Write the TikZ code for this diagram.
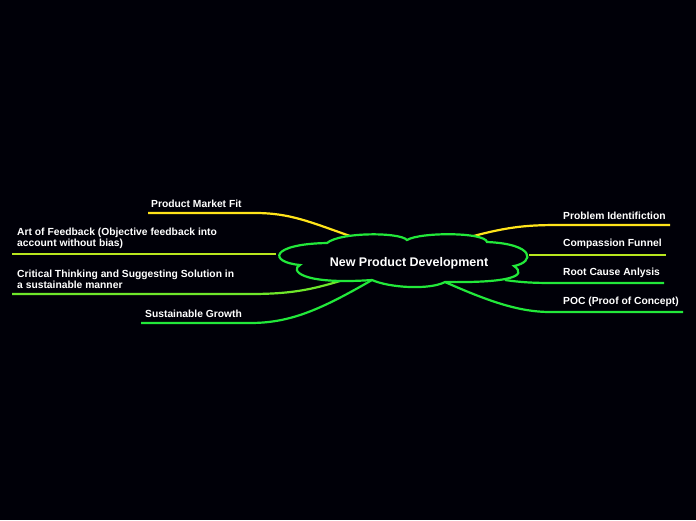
\documentclass[tikz,border=0pt]{standalone}
\usepackage{fontspec}
\setmainfont{Liberation Sans}
\definecolor{brg}{HTML}{22E83A}
\definecolor{bry}{HTML}{FFE41A}
\definecolor{bryg}{HTML}{B8E61E}
\definecolor{brgy}{HTML}{6EE62A}
\begin{document}
\begin{tikzpicture}[x=1pt,y=-1pt,
  lbl/.style={text=white,font=\bfseries\fontsize{10.3}{11}\selectfont,inner sep=0pt,align=left,anchor=south west},
  br/.style={line width=2.2pt},
  cy/.style={draw=bry},
  cyg/.style={draw=bryg},
  cg/.style={draw=brg}]
\fill[black!97!blue] (0,0) rectangle (696,520);
\useasboundingbox (0,0) rectangle (696,520);
% branches
\coordinate (c1) at (350,236); \coordinate (c2) at (276,254); \coordinate (c3) at (340,281); \coordinate (c4) at (372,280);
\coordinate (c5) at (470,237); \coordinate (c6) at (529,255); \coordinate (c7) at (505,280); \coordinate (c8) at (445,282);
\node[lbl] (t1) at (151,208) {Product Market Fit};
\node[lbl] (t2) at (17,249) {Art of Feedback (Objective feedback into\\account without bias)};
\node[lbl] (t3) at (17,289) {Critical Thinking and Suggesting Solution in\\a sustainable manner};
\node[lbl] (t4) at (145,318) {Sustainable Growth};
\node[lbl] (t5) at (563,220) {Problem Identifiction};
\node[lbl] (t6) at (563,249) {Compassion Funnel};
\node[lbl] (t7) at (563,278) {Root Cause Anlysis};
\node[lbl] (t8) at (563,307) {POC (Proof of Concept)};
\draw[br,cy] (c1) .. controls (310,222) and (290,213) .. (255,213) -- (148,213);
\draw[br,cyg] (c2) -- (12,254);
\draw[br,draw=brgy] (c3) .. controls (310,290) and (290,294) .. (250,294) -- (12,294);
\draw[br,cg] (c4) .. controls (320,310) and (290,323) .. (250,323) -- (141,323);
\draw[br,cy] (c5) .. controls (510,226) and (530,225) .. (560,225) -- (670,225);
\draw[br,cyg] (c6) -- (666,255);
\draw[br,cg] (c7) .. controls (525,283) and (540,283) .. (560,283) -- (664,283);
\draw[br,cg] (c8) .. controls (490,302) and (520,312) .. (550,312) -- (683,312);
% cloud
\draw[line width=2.2pt,draw=brg,fill=black!97!blue]
 (300,265) .. controls (268,262) and (270,244) .. (327,243)
 .. controls (340,232) and (400,232) .. (407,240)
 .. controls (420,232) and (485,232) .. (487,242)
 .. controls (535,244) and (535,262) .. (514,266)
 .. controls (528,276) and (510,283) .. (445,282)
 .. controls (430,290) and (390,288) .. (372,280)
 .. controls (300,285) and (290,270) .. (300,265) -- cycle;
\node[text=white,font=\bfseries\fontsize{12.5}{14}\selectfont] (root) at (409,263.5) {New Product Development};
\end{tikzpicture}
\end{document}
